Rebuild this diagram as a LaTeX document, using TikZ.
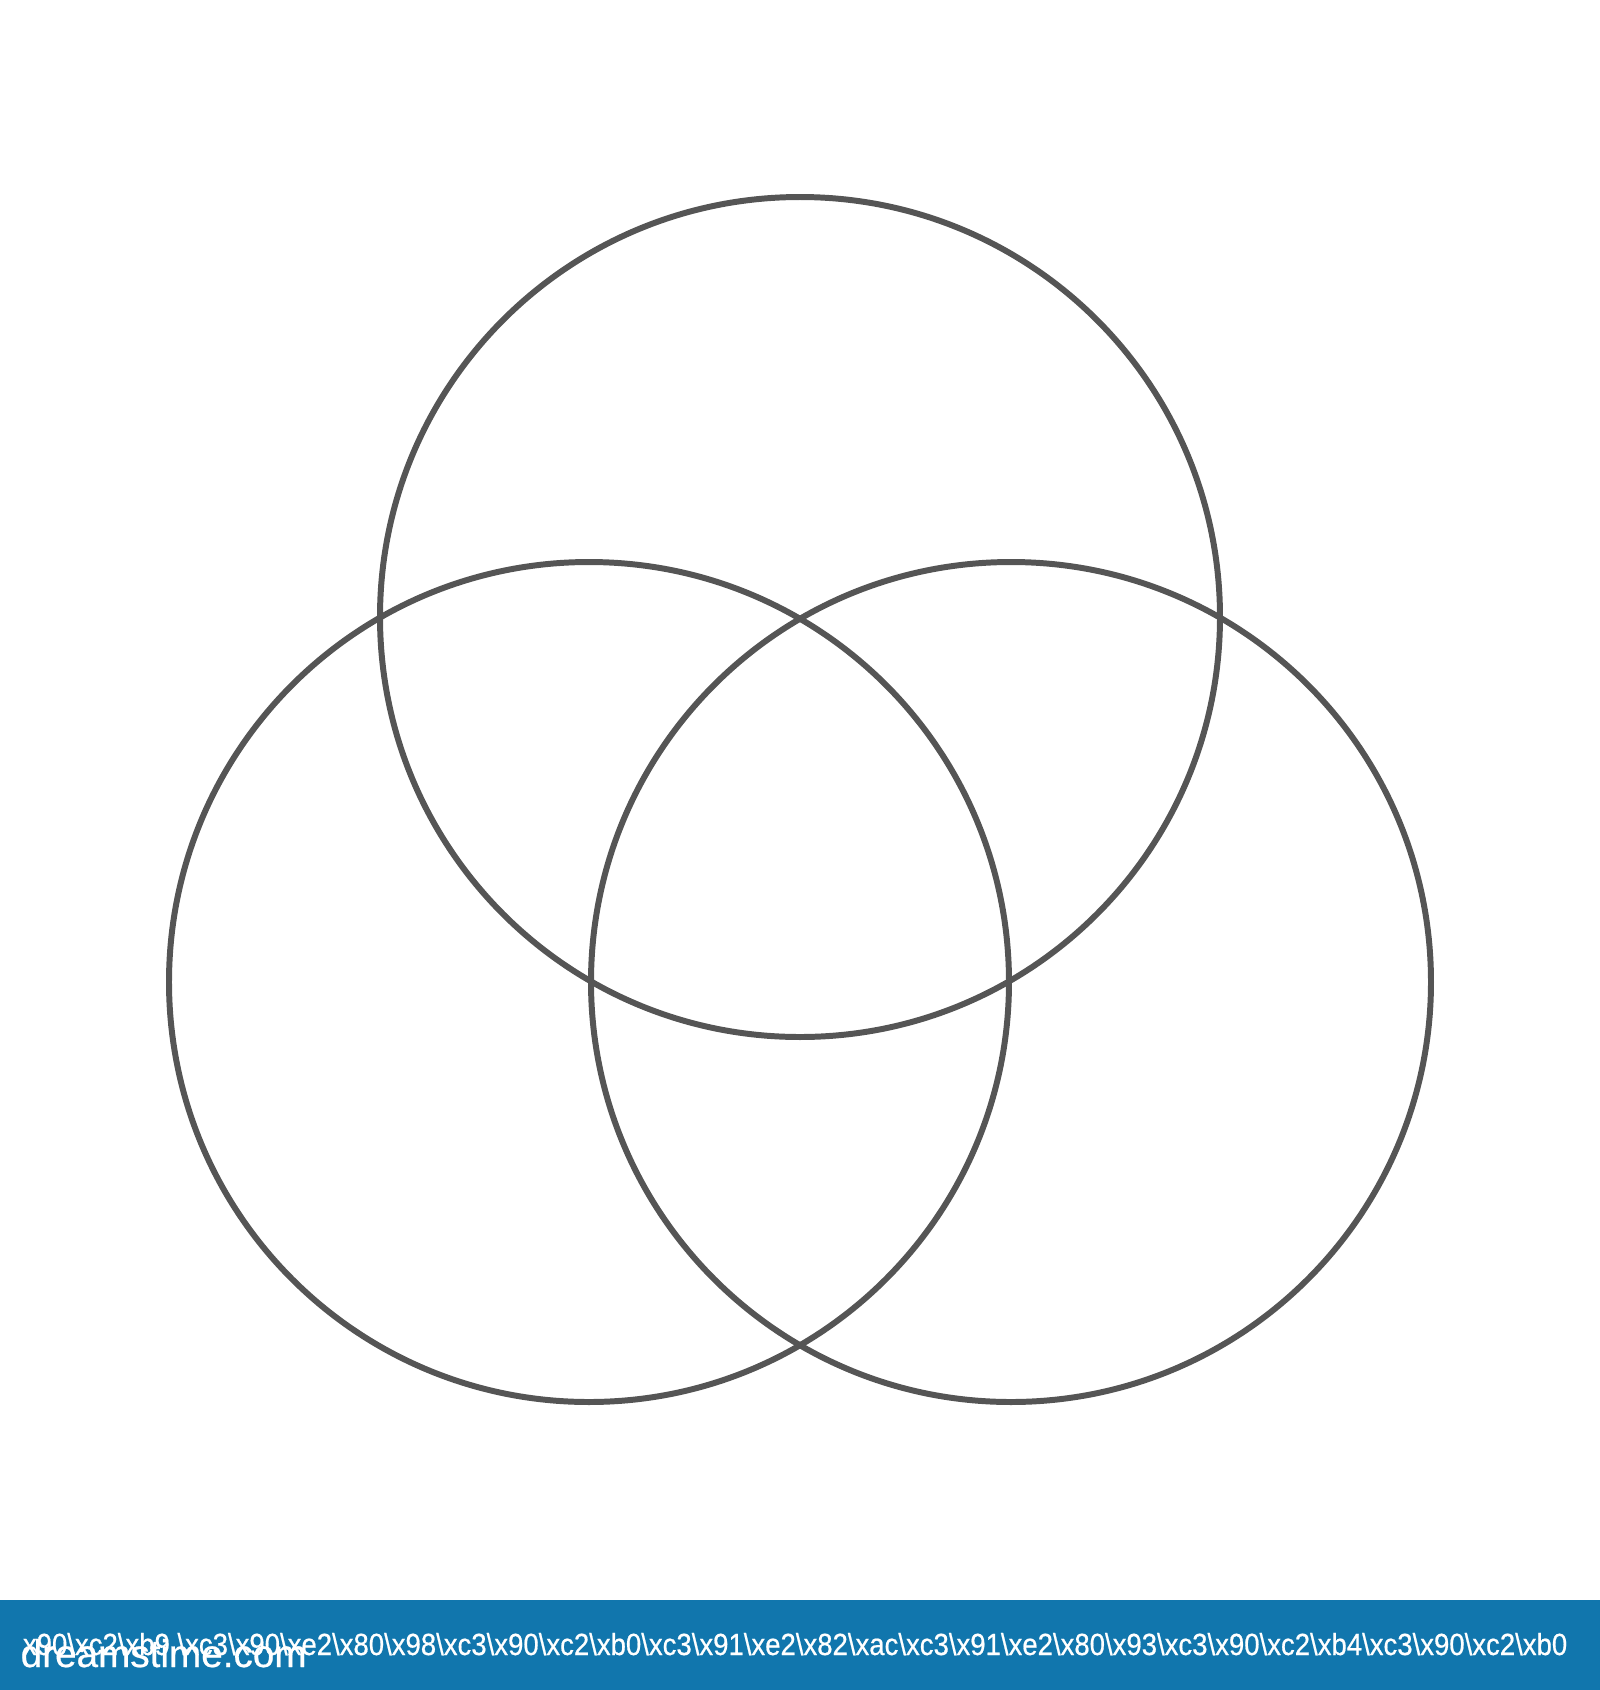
\documentclass[tikz,border=0pt]{standalone}
\usepackage{fontspec}
\newfontfamily\barfont{Liberation Sans}[FakeStretch=0.9,FakeBold=0.6]
\newfontfamily\logofont{Liberation Sans}[FakeBold=0.6]
\definecolor{ringgray}{RGB}{85,85,85}
\definecolor{barblue}{RGB}{17,118,173}
\newcommand{\bsl}{\textbackslash}
\tikzset{
	ring/.style={draw=ringgray,line width=1.7pt},
	bartext/.style={text=white,inner sep=0pt,font=\barfont\fontsize{8.7pt}{9pt}\selectfont}
}
\begin{document}
\begin{tikzpicture}[x=0.01cm,y=-0.01cm]

		\useasboundingbox (0,0) rectangle (1600,1690);
		\clip (0,0) rectangle (1600,1690);

		\coordinate (ctop)   at ( 800, 617);
		\coordinate (cleft)  at ( 589, 982);
		\coordinate (cright) at (1011, 982);

		\draw [ring] (ctop)   circle (420);
		\draw [ring] (cleft)  circle (420);
		\draw [ring] (cright) circle (420);

		% bottom bar
		\fill [barblue] (0,1600) rectangle (1600,1690);
		\node [bartext,anchor=base east] (barline) at (1568,1655)
			{x90\bsl xc2\bsl xb9 \bsl xc3\bsl x90\bsl xe2\bsl x80\bsl x98\bsl xc3\bsl x90\bsl xc2\bsl xb0\bsl xc3\bsl x91\bsl xe2\bsl x82\bsl xac\bsl xc3\bsl x91\bsl xe2\bsl x80\bsl x93\bsl xc3\bsl x90\bsl xc2\bsl xb4\bsl xc3\bsl x90\bsl xc2\bsl xb0};
		\node [bartext,anchor=base west,font=\logofont\fontsize{11pt}{12pt}\selectfont] (logo) at (20,1667) {dreamstime.com};
	\end{tikzpicture}
\end{document}
